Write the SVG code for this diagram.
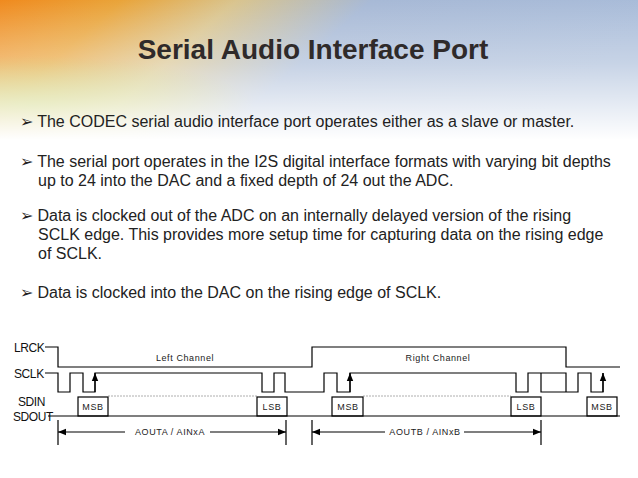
<svg xmlns="http://www.w3.org/2000/svg" width="638" height="478" viewBox="0 0 638 478">
<defs>
<linearGradient id="bg" x1="0" y1="0" x2="1" y2="0.25">
<stop offset="0" stop-color="#f08a1e"/>
<stop offset="0.18" stop-color="#e9a43a"/>
<stop offset="0.35" stop-color="#d9c48e"/>
<stop offset="0.55" stop-color="#a7b9d6"/>
<stop offset="1" stop-color="#a9bcd9"/>
</linearGradient>
<linearGradient id="fade" x1="0" y1="0" x2="0" y2="1">
<stop offset="0" stop-color="#fff" stop-opacity="0"/>
<stop offset="0.45" stop-color="#fff" stop-opacity="0.35"/>
<stop offset="1" stop-color="#fff" stop-opacity="1"/>
</linearGradient>
<radialGradient id="green" cx="0.05" cy="0.75" r="0.35">
<stop offset="0" stop-color="#b7c94a" stop-opacity="0.9"/>
<stop offset="1" stop-color="#b7c94a" stop-opacity="0"/>
</radialGradient>
<marker id="ah" viewBox="0 0 10 10" refX="10" refY="5" markerWidth="7" markerHeight="7" orient="auto-start-reverse"><path d="M0,1 L10,5 L0,9 z" fill="#000"/></marker>
<style>
.t{font-family:"Liberation Sans",Arial,sans-serif;font-size:16px;fill:#222}
.w{fill:none;stroke:#000;stroke-width:1.2}
.s{font-family:"Liberation Sans",Arial,sans-serif;font-size:9px;fill:#222;letter-spacing:0.6px}
.l{font-family:"Liberation Sans",Arial,sans-serif;font-size:12px;fill:#111;letter-spacing:-0.4px}
</style>
</defs>
<rect width="638" height="478" fill="#fff"/>
<rect width="638" height="140" fill="url(#bg)"/>
<rect width="638" height="140" fill="url(#green)"/>
<rect width="638" height="140" fill="url(#fade)"/>
<g id="title"><text x="313" y="59" text-anchor="middle" font-family="Liberation Sans,Arial,sans-serif" font-weight="bold" font-size="28" fill="#2f2a2a">Serial Audio Interface Port</text></g>
<g id="bullets">
<text class="t" x="20" y="127">➢ The CODEC serial audio interface port operates either as a slave or master.</text>
<text class="t" x="20" y="167">➢ The serial port operates in the I2S digital interface formats with varying bit depths</text>
<text class="t" x="38" y="186">up to 24 into the DAC and a fixed depth of 24 out the ADC.</text>
<text class="t" x="20" y="221">➢ Data is clocked out of the ADC on an internally delayed version of the rising</text>
<text class="t" x="38" y="240">SCLK edge. This provides more setup time for capturing data on the rising edge</text>
<text class="t" x="38" y="259">of SCLK.</text>
<text class="t" x="20" y="298">➢ Data is clocked into the DAC on the rising edge of SCLK.</text>
</g>
<g id="timing">
<text class="l" x="14" y="352">LRCK</text>
<text class="l" x="14" y="378">SCLK</text>
<text class="l" x="18" y="406">SDIN</text>
<text class="l" x="13" y="421">SDOUT</text>
<path class="w" d="M45,347 H58 V367 H312 V347 H566 V367 H620"/>
<path class="w" d="M45,373 H58 V392 H70 V373 H83 V392 H95 V373 H262 V392 H274 V373 H285 V392 H324 V373 H337 V392 H350 V373 H516 V392 H528 V373 H541 V392 H566 V373 H541 M566,392 H578 V373 H591 V392 H603 V373"/>
<line x1="95" y1="392" x2="95" y2="373" class="w" marker-end="url(#ah)"/>
<line x1="350" y1="392" x2="350" y2="373" class="w" marker-end="url(#ah)"/>
<line x1="603" y1="392" x2="603" y2="373" class="w" marker-end="url(#ah)"/>
<line x1="108" y1="396" x2="257" y2="396" stroke="#999" stroke-width="0.8" stroke-dasharray="2,1"/>
<line x1="363" y1="396" x2="511" y2="396" stroke="#999" stroke-width="0.8" stroke-dasharray="2,1"/>
<path class="w" d="M48,416 H620"/>
<rect class="w" x="78" y="397" width="30" height="19"/>
<rect class="w" x="257" y="397" width="30" height="19"/>
<rect class="w" x="332" y="397" width="31" height="19"/>
<rect class="w" x="511" y="397" width="30" height="19"/>
<rect class="w" x="587" y="397" width="30" height="19"/>
<text class="s" x="93" y="410" text-anchor="middle">MSB</text>
<text class="s" x="272" y="410" text-anchor="middle">LSB</text>
<text class="s" x="348" y="410" text-anchor="middle">MSB</text>
<text class="s" x="526" y="410" text-anchor="middle">LSB</text>
<text class="s" x="602" y="410" text-anchor="middle">MSB</text>
<text class="s" x="185" y="361" text-anchor="middle">Left Channel</text>
<text class="s" x="438" y="361" text-anchor="middle">Right Channel</text>
</g>
<g id="connectors">
<path class="w" d="M58,420 V445 M286,420 V445 M312,420 V445 M541,420 V445"/>
<line class="w" x1="125" y1="432" x2="58" y2="432" marker-end="url(#ah)"/>
<line class="w" x1="210" y1="432" x2="286" y2="432" marker-end="url(#ah)"/>
<line class="w" x1="385" y1="432" x2="312" y2="432" marker-end="url(#ah)"/>
<line class="w" x1="464" y1="432" x2="541" y2="432" marker-end="url(#ah)"/>
<text class="s" x="170" y="435" text-anchor="middle" letter-spacing="0">AOUTA / AINxA</text>
<text class="s" x="425" y="435" text-anchor="middle" letter-spacing="0">AOUTB / AINxB</text>
</g>
</svg>
